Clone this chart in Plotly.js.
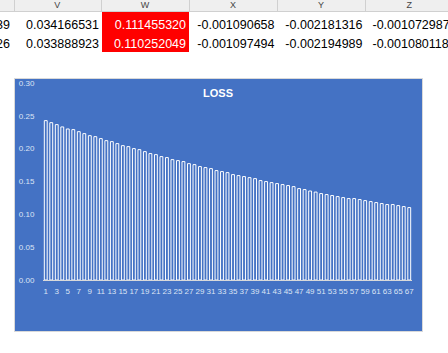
<!DOCTYPE html>
<html>
<head>
<meta charset="utf-8">
<script src="https://cdn.plot.ly/plotly-3.0.1.min.js"></script>
<style>
  html, body { margin:0; padding:0; width:448px; height:353px; overflow:hidden; background:#ffffff; font-family:"Liberation Sans", Arial, sans-serif; }
  #sheet { position:absolute; left:0; top:0; width:448px; height:53px; }
  .hdr { position:absolute; top:0; height:11px; background:#efefef; border-bottom:1px solid #d0d0d0; }
  .hcell { position:absolute; top:0; height:11px; line-height:11px; font-size:9px; color:#444; text-align:center; border-right:1px solid #d0d0d0; box-sizing:border-box; }
  .cell { position:absolute; font-size:12.5px; line-height:14px; color:#000; white-space:nowrap; }
  #red { position:absolute; left:102px; top:12px; width:87px; height:40px; background:#ff0000; }
  #box { position:absolute; left:14px; top:78px; width:407px; height:252px; background:#4472c4; border:1px solid #d9d9d9; }
  #chart { position:absolute; left:0; top:0; width:448px; height:353px; }
</style>
</head>
<body>
<div id="sheet"></div>
<div id="box"></div>
<div id="chart"></div>
<script>
// ---- spreadsheet data visible above the chart ----
const colLetters = ["V", "W", "X", "Y", "Z"];
const row1 = ["39", "0.034166531", "0.111455320", "-0.001090658", "-0.002181316", "-0.001072987"];
const row2 = ["26", "0.033888923", "0.110252049", "-0.001097494", "-0.002194989", "-0.001080118"];

// ---- chart data ----
const categories = [1,2,3,4,5,6,7,8,9,10,11,12,13,14,15,16,17,18,19,20,21,22,23,24,25,26,27,28,29,30,31,32,33,34,35,36,37,38,39,40,41,42,43,44,45,46,47,48,49,50,51,52,53,54,55,56,57,58,59,60,61,62,63,64,65,66,67];
const lossValues = [
  0.2427,0.2396,0.2366,0.2331,0.2300,0.2290,0.2259,0.2229,0.2198,0.2183,
  0.2153,0.2122,0.2107,0.2077,0.2046,0.2031,0.2001,0.1985,0.1955,0.1925,
  0.1909,0.1879,0.1864,0.1833,0.1818,0.1803,0.1772,0.1757,0.1727,0.1712,
  0.1696,0.1666,0.1651,0.1635,0.1605,0.1590,0.1575,0.1559,0.1544,0.1514,
  0.1499,0.1483,0.1468,0.1453,0.1438,0.1422,0.1392,0.1377,0.1355,0.1339,
  0.1316,0.1301,0.1286,0.1270,0.1255,0.1240,0.1240,0.1225,0.1209,0.1194,
  0.1179,0.1164,0.1149,0.1149,0.1133,0.1118,0.1103
];
const xTickLabels = ["1","3","5","7","9","11","13","15","17","19","21","23","25","27","29","31","33","35","37","39","41","43","45","47","49","51","53","55","57","59","61","63","65","67"];
const yTickValues = [0, 0.05, 0.10, 0.15, 0.20, 0.25, 0.30];
const chartTitle = "LOSS";

// ---- build spreadsheet strip ----
(function(){
  const sheet = document.getElementById('sheet');
  const colEdges = [14, 101.5, 189.5, 277.5, 365.5, 454];
  let h = document.createElement('div');
  h.className = 'hdr'; h.style.left = '0px'; h.style.width = '448px';
  sheet.appendChild(h);
  let first = document.createElement('div');
  first.className = 'hcell'; first.style.left = '0px'; first.style.width = '14.5px';
  sheet.appendChild(first);
  for (let i = 0; i < colLetters.length; i++) {
    const d = document.createElement('div');
    d.className = 'hcell';
    d.style.left = colEdges[i] + 'px';
    d.style.width = (colEdges[i+1] - colEdges[i]) + 'px';
    d.textContent = colLetters[i];
    sheet.appendChild(d);
  }
  const red = document.createElement('div'); red.id = 'red'; sheet.appendChild(red);
  const rights = [10, 99, 186, 274.5, 362.5];
  const tops = [17.5, 37];
  [row1, row2].forEach((row, r) => {
    for (let i = 0; i < row.length; i++) {
      const s = document.createElement('div');
      s.className = 'cell';
      s.textContent = row[i];
      s.style.top = tops[r] + 'px';
      if (i < 5) { s.style.right = (448 - rights[i]) + 'px'; }
      else { s.style.left = '372.5px'; }
      if (i === 2) s.style.color = '#ffffff';
      sheet.appendChild(s);
    }
  });
})();

// ---- chart ----
const trace = {
  type: 'bar',
  x: categories.map(String),
  y: lossValues,
  marker: { color: '#4472c4', line: { color: '#ffffff', width: 1 } },
  hoverinfo: 'none'
};
const tickFont = { family: '"Liberation Sans", Arial, sans-serif', size: 8, color: '#dce4f4' };
const layout = {
  width: 448, height: 353,
  margin: { l: 43, r: 35.5, t: 83.3, b: 72.5, pad: 0 },
  paper_bgcolor: 'rgba(0,0,0,0)',
  plot_bgcolor: 'rgba(0,0,0,0)',
  bargap: 0.48,
  showlegend: false,
  title: {
    text: '<b>' + chartTitle + '</b>',
    font: { family: '"Liberation Sans", Arial, sans-serif', size: 11, color: '#ffffff' },
    xref: 'container', x: 218/448, xanchor: 'center',
    yref: 'container', y: 1 - 93/353, yanchor: 'middle'
  },
  xaxis: {
    type: 'category',
    tickmode: 'array', tickvals: xTickLabels, ticktext: xTickLabels,
    tickangle: 0,
    showgrid: false, zeroline: false,
    showline: true, linecolor: '#d9d9d9', linewidth: 1,
    ticks: 'outside', ticklen: 3, tickcolor: 'rgba(0,0,0,0)',
    tickfont: tickFont,
    fixedrange: true
  },
  yaxis: {
    range: [0, 0.30],
    tickmode: 'array', tickvals: yTickValues,
    tickformat: '.2f',
    showgrid: false, zeroline: false, showline: false,
    ticks: 'outside', ticklen: 6, tickcolor: 'rgba(0,0,0,0)',
    tickfont: tickFont,
    fixedrange: true
  }
};
Plotly.newPlot('chart', [trace], layout, { displayModeBar: false, staticPlot: true });
</script>
</body>
</html>
